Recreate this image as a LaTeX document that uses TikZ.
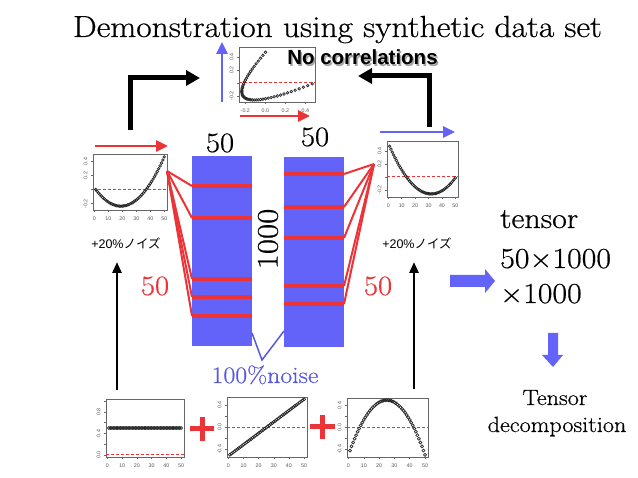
\documentclass[tikz,border=0pt]{standalone}
\usepackage{fontspec}
\usetikzlibrary{arrows.meta}
\setmainfont{Latin Modern Roman}[FakeStretch=1.1,FakeBold=0.6]
\newfontfamily\sansf{Liberation Sans}
\newfontfamily\jpf{Noto Sans CJK JP}
\definecolor{myblue}{RGB}{99,99,250}
\definecolor{myred}{RGB}{236,52,56}
\definecolor{txtblue}{RGB}{88,88,222}
\definecolor{tickgray}{RGB}{85,85,85}
\newcommand\setplot[8]{\def\Pxa{#1}\def\Pya{#2}\def\Pxb{#3}\def\Pyb{#4}\def\Dxa{#5}\def\Dxb{#6}\def\Dya{#7}\def\Dyb{#8}}
\newcommand\MX[1]{(\Pxa+(\Pxb-\Pxa)*((#1)-(\Dxa))/((\Dxb)-(\Dxa)))}
\newcommand\MY[1]{(\Pyb-(\Pyb-\Pya)*((#1)-(\Dya))/((\Dyb)-(\Dya)))}
\newcommand\frameplot{\draw[frame] (\Pxa,\Pya) rectangle (\Pxb,\Pyb);
  \draw[zero] (\Pxa,{\MY{0}}) -- (\Pxb,{\MY{0}});}
\newcommand\xticks[2]{\foreach \v in {#1}{\draw[tk] ({\MX{\v}},\Pyb) -- ({\MX{\v}},{\Pyb+2.5});}
  \foreach \v in {#2}{\node[tl] at ({\MX{\v}},{\Pyb+8.5}) {\v};}}
\newcommand\yticks[2]{\foreach \v in {#1}{\draw[tk] (\Pxa,{\MY{\v}}) -- ({\Pxa-2.5},{\MY{\v}});}
  \foreach \v in {#2}{\node[tl,rotate=90] at ({\Pxa-7.5},{\MY{\v}}) {\v};}}
\begin{document}
\begin{tikzpicture}[x=1pt,y=-1pt,
  declare function={fa(\t)=0.000733*(\t-19)^2-0.235; fb(\t)=0.000764*(\t-32)^2-0.263;
    fc(\t)=0.5-(\t-25)^2/625; fl(\t)=(\t-25.5)/49;},
  frame/.style={draw=black!60,line width=0.6pt},
  zero/.style={draw=myred,line width=0.8pt,dash pattern=on 3pt off 2pt},
  tk/.style={draw=black!60,line width=0.5pt},
  tl/.style={font=\sansf\fontsize{5.3}{6}\selectfont,text=tickgray,inner sep=0pt},
  pt/.style={draw=black!85,line width=0.7pt},
  blk/.style={line width=5pt,-{Triangle[length=14pt,width=15pt]}},
  thinblk/.style={line width=2.5pt,-{Triangle[length=11pt,width=9pt]}},
  redar/.style={draw=myred,line width=2.8pt,-{Triangle[length=12pt,width=11pt]}},
  bluear/.style={draw=myblue,line width=2.6pt,-{Triangle[length=12pt,width=11pt]}},
  rect/.style={fill=myblue,inner sep=0pt,minimum width=60pt},
  stripe/.style={draw=myred,line width=4.5pt},
  fan/.style={draw=myred,line width=2pt,line join=round},
  big/.style={font=\fontsize{28}{30}\selectfont,inner sep=0pt},
  jp/.style={font=\fontsize{12.5}{14}\selectfont,inner sep=0pt}
]
\useasboundingbox (0,0) rectangle (638,478);

% title
\node[font=\fontsize{30.5}{33}\selectfont,anchor=base,inner sep=0pt] (title) at (337.5,37) {Demonstration using synthetic data set};

% blue rectangles
\node[rect,minimum height=190pt] (r1) at (222,251) {};
\node[rect,minimum height=190pt] (r2) at (314,252) {};

% fan lines and stripes
\coordinate (L0) at (167,171);
\foreach \y in {186,218,279,297,316}{\draw[fan] (L0) -- (192,\y);\draw[stripe] (192,\y) -- (252,\y);}
\coordinate (R0) at (374,164);
\foreach \y in {174,207,238,286,304}{\draw[fan] (R0) -- (344,\y);\draw[stripe] (284,\y) -- (344,\y);}

% left plot
\setplot{93}{154}{167}{210}{-0.96}{51.96}{-0.29}{0.51}
\frameplot
\foreach \t in {1,...,50} \draw[pt] ({\MX{\t}},{\MY{fa(\t)}}) circle[radius=1.3pt];
\xticks{0,10,20,30,40,50}{0,10,20,30,40,50}
\yticks{-0.2,0,0.2,0.4}{-0.2,0.2,0.4}

% right plot
\setplot{387}{141}{458}{197}{-0.96}{51.96}{-0.31}{0.55}
\frameplot
\foreach \t in {1,...,50} \draw[pt] ({\MX{\t}},{\MY{fb(\t)}}) circle[radius=1.3pt];
\xticks{0,10,20,30,40,50}{0,10,20,30,40,50}
\yticks{-0.2,0,0.2,0.4}{-0.2,0.2,0.4}

% top plot
\setplot{239}{47}{315}{102}{-0.263}{0.497}{-0.294}{0.551}
\frameplot
\foreach \t in {1,...,50} \draw[pt] ({\MX{fa(\t)}},{\MY{fb(\t)}}) circle[radius=1.3pt];
\xticks{-0.2,0,0.2,0.4}{-0.2,0.0,0.2,0.4}
\yticks{-0.2,0,0.2,0.4}{-0.2,0.2,0.4}

% bottom plot 1
\setplot{106}{399}{184}{457}{-0.96}{51.96}{-0.04}{1.04}
\frameplot
\foreach \t in {1,...,50} \draw[pt] ({\MX{\t}},{\MY{0.5}}) circle[radius=1.5pt];
\xticks{0,10,20,30,40,50}{0,10,20,30,40,50}
\yticks{0,0.2,0.4,0.6,0.8,1.0}{0.0,0.4,0.8}

% bottom plot 2
\setplot{227}{397}{307}{457}{-0.96}{51.96}{-0.54}{0.54}
\frameplot
\foreach \t in {1,...,50} \draw[pt] ({\MX{\t}},{\MY{fl(\t)}}) circle[radius=1.5pt];
\xticks{0,10,20,30,40,50}{0,10,20,30,40,50}
\yticks{-0.4,-0.2,0,0.2,0.4}{-0.4,0.0,0.4}

% bottom plot 3
\setplot{347}{398}{428}{457}{-0.96}{51.96}{-0.54}{0.54}
\frameplot
\foreach \t in {1,...,50} \draw[pt] ({\MX{\t}},{\MY{fc(\t)}}) circle[radius=1.5pt];
\xticks{0,10,20,30,40,50}{0,10,20,30,40,50}
\yticks{-0.4,-0.2,0,0.2,0.4}{-0.4,0.0,0.4}

% plus signs
\draw[myred,line width=5pt] (190,429) -- (214,429) (202,417) -- (202,441);
\draw[myred,line width=5pt] (310,427) -- (335,427) (322,415) -- (322,439);

% arrows around top plot
\coordinate (ta0) at (222,102); \coordinate (ta1) at (222,42);
\draw[bluear] (ta0) -- (ta1);
\coordinate (tb0) at (240,116); \coordinate (tb1) at (310,116);
\draw[redar] (tb0) -- (tb1);

% plot arrows
\coordinate (pa0) at (95,146); \coordinate (pa1) at (168,146);
\draw[redar] (pa0) -- (pa1);
\coordinate (pb0) at (380,132); \coordinate (pb1) at (455,132);
\draw[bluear] (pb0) -- (pb1);

% black L arrows
\coordinate (la0) at (130,130); \coordinate (la1) at (200,78);
\draw[blk] (la0) |- (la1);
\coordinate (ra0) at (429,127); \coordinate (ra1) at (358,76);
\draw[blk] (ra0) |- (ra1);

% thin black arrows
\coordinate (ba0) at (117,390); \coordinate (ba1) at (117,262);
\draw[thinblk] (ba0) -- (ba1);
\coordinate (bb0) at (414,389); \coordinate (bb1) at (414,262);
\draw[thinblk] (bb0) -- (bb1);

% No correlations
\node[font=\sansf\bfseries\fontsize{20.5}{22}\selectfont,text=black!35,anchor=base,inner sep=0pt] (ncs) at (364,66.5) {No correlations};
\node[font=\sansf\bfseries\fontsize{20.5}{22}\selectfont,anchor=base,inner sep=0pt] (nc) at (362.5,65) {No correlations};

% numbers
\node[big] (n50a) at (220,143) {50};
\node[big] (n50b) at (315,137) {50};
\node[big,font=\fontsize{30}{32}\selectfont,rotate=90] (n1000) at (268,239) {1000};
\node[big,text=myred] (n50c) at (155,286) {50};
\node[big,text=myred] (n50d) at (378,286) {50};

\node[jp] (nz1) at (126,243) {{\sansf +20\%}{\jpf ノイズ}};
\node[jp] (nz2) at (417,243) {{\sansf +20\%}{\jpf ノイズ}};

% noise V
\coordinate (v0) at (252,333); \coordinate (v1) at (262,360); \coordinate (v2) at (284,331);
\draw[txtblue,line width=1.5pt] (v0) -- (v1) -- (v2);
\node[font=\fontsize{23.5}{25}\selectfont,text=txtblue,anchor=base,inner sep=0pt] (noise) at (265,383) {100\%noise};

% blue block arrows
\fill[myblue] (450,275) -- (485,275) -- (485,269) -- (495,281) -- (485,293) -- (485,287) -- (450,287) -- cycle;
\fill[myblue] (548,333) -- (558,333) -- (558,355) -- (563,355) -- (553,367) -- (542,355) -- (548,355) -- cycle;

% tensor text
\node[big,font=\fontsize{29}{31}\selectfont,anchor=base west] (t1) at (500,228) {tensor};
\node[big,font=\fontsize{29}{31}\selectfont,anchor=base west] (t2) at (500,268) {50×1000};
\node[big,font=\fontsize{29}{31}\selectfont,anchor=base west] (t3) at (500,303) {×1000};
\node[font=\fontsize{22}{24}\selectfont,anchor=base,inner sep=0pt] (td1) at (555,405) {Tensor};
\node[font=\fontsize{22}{24}\selectfont,anchor=base,inner sep=0pt] (td2) at (557,432) {decomposition};
\end{tikzpicture}
\end{document}
